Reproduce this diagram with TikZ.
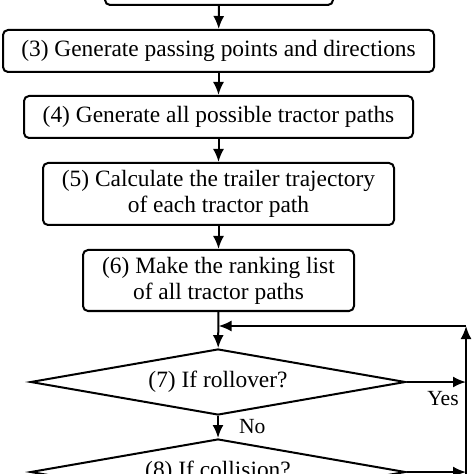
\documentclass[tikz,border=0pt]{standalone}
\usepackage{fontspec}
\setmainfont{Liberation Serif}
\usetikzlibrary{shapes.geometric,arrows.meta}

\begin{document}
\begin{tikzpicture}[x=0.5pt, y=-0.5pt, >={Latex[length=6.5pt,width=5.5pt]}, line width=1pt,
  stepbox/.style={draw, rounded corners=2.5pt, align=center, inner sep=0pt, font=\fontsize{11.7}{13}\selectfont},
  decision/.style={draw, diamond, aspect=5.7, inner sep=0pt, minimum width=187.5pt, minimum height=33pt, font=\fontsize{11.7}{13}\selectfont},
  answer/.style={font=\fontsize{10.8}{13}\selectfont, inner sep=1pt}]
  \useasboundingbox (0,0) rectangle (474,474);
  \clip (0,0) rectangle (474,474);
  % Steps (2) to (6)
  \node[stepbox, minimum width=114pt, minimum height=21pt] (step2) at (219,-16) {};
  \node[stepbox, minimum width=215.5pt, minimum height=21pt] (step3) at (218.5,51) {(3) Generate passing points and directions};
  \node[stepbox, minimum width=194.5pt, minimum height=21pt] (step4) at (218.5,117) {(4) Generate all possible tractor paths};
  \node[stepbox, minimum width=175.5pt, minimum height=31pt] (step5) at (218.5,194) {(5) Calculate the trailer trajectory\\of each tractor path};
  \node[stepbox, minimum width=135.5pt, minimum height=30.5pt] (step6) at (218.5,280.5) {(6) Make the ranking list\\of all tractor paths};
  % Checks (7) and (8)
  \node[decision] (roll) at (218,382) {(7) If rollover?};
  \node[decision] (coll) at (218,472) {(8) If collision?};
  % Return loop on the right
  \coordinate (loop) at (466,326);
  \coordinate (merge) at (218.5,326);
  \coordinate (low) at (466,530);
  \coordinate (yesend) at (466,382);
  \coordinate (collend) at (466,472);
  % Flow down
  \draw[->] (step2) -- (step3);
  \draw[->] (step3) -- (step4);
  \draw[->] (step4) -- (step5);
  \draw[->] (step5) -- (step6);
  \draw[->] (step6) -- (roll);
  \draw[->] (roll) -- (coll);
  \node[answer, anchor=west] (no) at (236,427) {No};
  % Yes branches back up
  \draw[->] (roll.east) -- (yesend);
  \node[answer] (yes) at (443,399) {Yes};
  \draw[->] (coll.east) -- (collend);
  \draw[->] (low) -- (loop);
  \draw[->] (loop) -- (merge);
\end{tikzpicture}
\end{document}
